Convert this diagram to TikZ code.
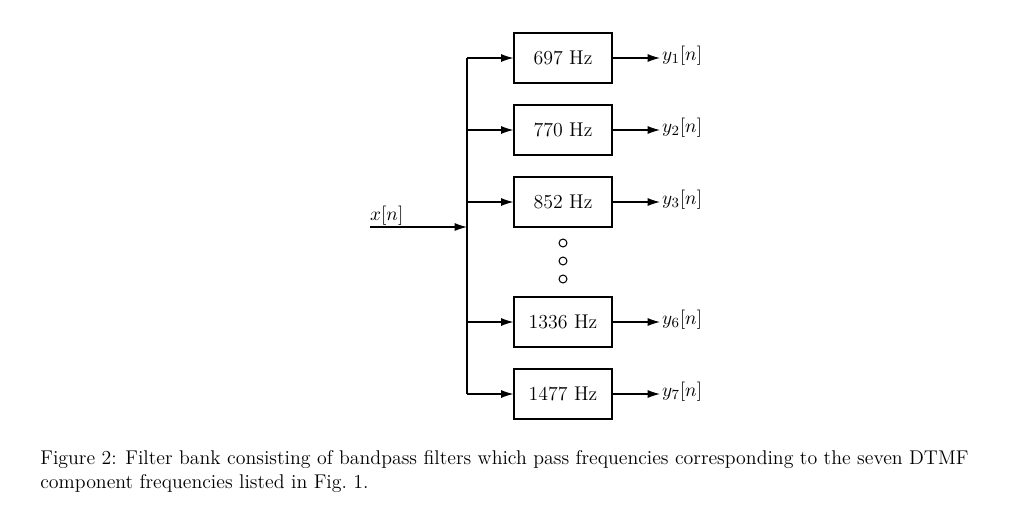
\documentclass[tikz,border=0pt]{standalone}
\usetikzlibrary{arrows.meta}
\begin{document}
\begin{tikzpicture}[x=0.02cm,y=-0.02cm,font=\fontsize{11.3}{13.5}\selectfont,
  filt/.style={draw,semithick,minimum width=1.96cm,minimum height=1cm,inner sep=0pt},
  arr/.style={semithick,-{Latex[length=7pt,width=4.5pt]}},
  dot/.style={circle,draw,semithick,inner sep=0pt,minimum size=4.5pt}]
\useasboundingbox (0,0) rectangle (1024,511);
\coordinate (in) at (370,227);
\coordinate (bj) at (467,227);
\coordinate (bt) at (467,58);
\coordinate (bb) at (467,394);
\draw[semithick] (bt) -- (bb);
\draw[arr] (in) -- (bj);
\node[anchor=south west,inner sep=1pt] (xl) at (368,227) {$x[n]$};
\foreach \i/\f/\y in {1/697/58,2/770/130,3/852/202,6/1336/322,7/1477/394}{
  \node[filt] (f\i) at (563,\y) {\f\ Hz};
  \coordinate (b\i) at (467,\y);
  \draw[arr] (b\i) -- (f\i.west);
  \node[anchor=west,inner sep=1pt] (y\i) at (660,\y-2) {$y_{\i}[n]$};
  \draw[arr] (f\i.east) -- (y\i.west |- f\i.east);
}
\node[dot] (d1) at (563,243) {};
\node[dot] (d2) at (563,261) {};
\node[dot] (d3) at (563,279) {};
\node[anchor=north west,align=left,inner sep=0pt] (cap) at (40,450)
 {Figure 2: Filter bank consisting of bandpass filters which pass frequencies corresponding to the seven DTMF\\component frequencies listed in Fig.~1.};
\end{tikzpicture}
\end{document}
